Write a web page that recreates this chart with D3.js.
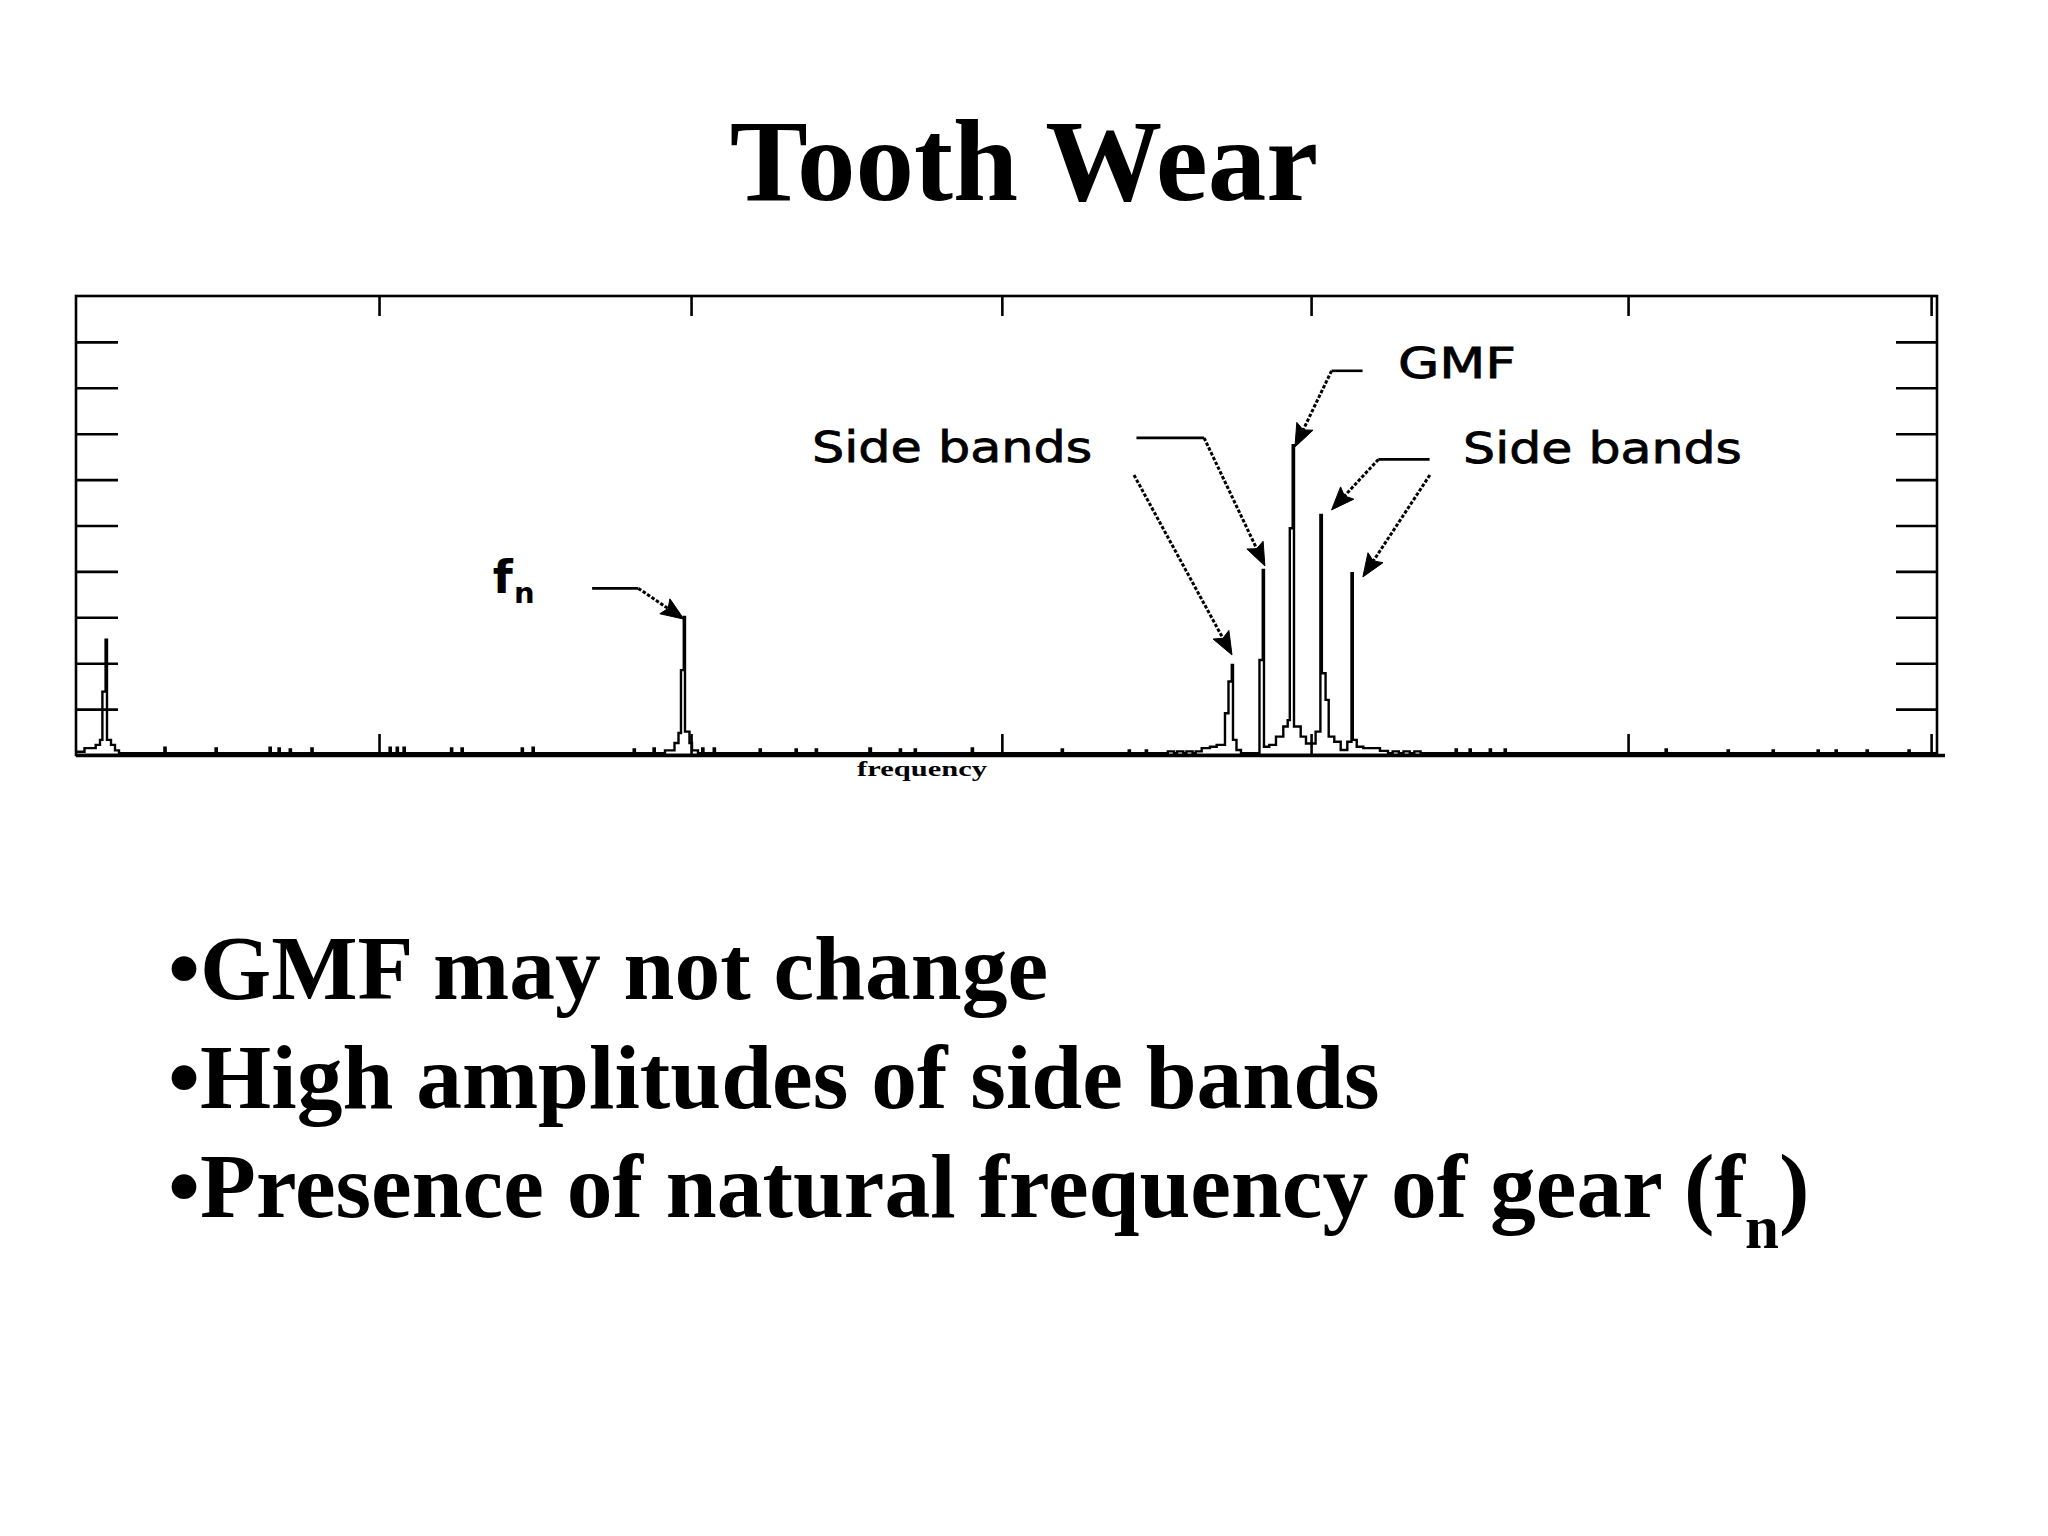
<!DOCTYPE html>
<html><head><meta charset="utf-8">
<script src="https://cdn.jsdelivr.net/npm/d3@7"></script>
<style>html,body{margin:0;padding:0;background:#fff}</style>
</head><body>
<svg id="c" width="2048" height="1536" xmlns="http://www.w3.org/2000/svg"></svg>
<script>
// ---------------- data ----------------
const titleText = "Tooth Wear";
const xAxisLabel = "frequency";
const xTickValues = [97.7, 198.3, 298.5, 398.2, 500.4, 598.1];
const yTickValues = [1, 2, 3, 4, 5, 6, 7, 8, 9];

// spectrum: [frequency, amplitude] (step-after bins)
const spectrum = [
  [0, 0.07], [2.74, 0.15], [6.35, 0.22], [7.74, 0.33], [8.51, 1.38], [9.54, 2.51], [9.99, 0.33],
  [11.28, 0.22], [12.57, 0.10], [13.86, 0.04],
  [28.5, 0.16], [28.9, 0.04], [45.0, 0.14], [45.4, 0.04], [62.4, 0.16], [62.8, 0.04],
  [65.3, 0.14], [65.7, 0.04], [68.9, 0.12], [69.3, 0.04], [75.9, 0.14], [76.3, 0.04],
  [101.1, 0.16], [101.5, 0.04], [103.4, 0.16], [103.8, 0.04], [105.6, 0.16], [106.0, 0.04],
  [120.9, 0.14], [121.3, 0.04], [124.3, 0.14], [124.7, 0.04], [143.7, 0.14], [144.1, 0.04],
  [147.2, 0.16], [147.6, 0.04], [179.8, 0.12], [180.2, 0.04], [186.2, 0.14], [186.6, 0.04],
  [189.89, 0.10], [192.96, 0.26], [194.25, 0.48], [195.05, 1.85], [195.95, 3.01], [196.34, 0.51],
  [197.79, 0.26], [198.60, 0.10], [200.53, 0.04],
  [201.9, 0.14], [202.3, 0.04], [205.6, 0.14], [206.0, 0.04], [220.4, 0.12], [220.8, 0.04],
  [232.0, 0.12], [232.4, 0.04], [238.5, 0.12], [238.9, 0.04], [255.8, 0.14], [256.3, 0.04],
  [265.6, 0.12], [266.0, 0.04], [270.4, 0.12], [270.8, 0.04], [288.8, 0.14], [289.2, 0.04],
  [317.8, 0.12], [318.2, 0.04], [339.4, 0.10], [339.8, 0.04], [344.9, 0.10], [345.3, 0.04],
  [352.0, 0.08], [354.0, 0.04], [355.0, 0.08], [357.0, 0.04], [358.0, 0.08], [360.0, 0.04], [361.0, 0.08],
  [362.93, 0.15], [365.60, 0.18], [367.76, 0.22], [370.44, 0.91], [371.57, 1.60], [372.63, 1.96],
  [373.02, 0.33], [374.15, 0.11], [375.6, 0.04],
  [381.56, 2.07], [382.62, 4.03], [383.01, 0.18], [384.72, 0.22], [386.88, 0.40], [389.24, 0.62],
  [390.66, 0.76], [391.34, 4.94], [392.27, 6.75], [392.69, 0.62], [394.85, 0.40], [396.56, 0.25],
  [399.66, 0.51], [401.20, 5.23], [401.68, 1.78], [402.87, 1.20], [403.88, 0.40], [405.68, 0.29],
  [407.75, 0.11], [409.88, 0.29], [411.23, 3.96], [411.65, 0.33], [412.91, 0.18], [415.03, 0.15],
  [420.41, 0.09], [423.0, 0.04], [424.5, 0.08], [426.5, 0.04], [428.0, 0.08], [430.0, 0.04],
  [431.5, 0.08], [433.5, 0.04],
  [444.8, 0.12], [445.2, 0.04], [449.3, 0.12], [449.7, 0.04], [455.8, 0.12], [456.2, 0.04],
  [460.6, 0.12], [461.0, 0.04], [512.5, 0.12], [512.9, 0.04], [532.5, 0.10], [532.9, 0.04],
  [547.0, 0.10], [547.4, 0.04], [561.5, 0.10], [561.9, 0.04], [567.3, 0.10], [567.7, 0.04],
  [577.3, 0.10], [577.7, 0.04], [590.8, 0.10], [591.2, 0.04], [600, 0.04]
];

// annotation labels anchored in data space
const labelTexts = ["Side bands", "GMF", "Side bands"];
const labelStart = [237.3, 426.2, 447.2];
const labelEnd   = [327.6, 464.3, 537.1];
const labelAmp   = [6.39, 8.21, 6.36];

// leader polylines in data space, last point = arrow tip
const leaders = [
  [[166.4, 3.63], [181.3, 3.63], [196.0, 2.96]],
  [[341.9, 6.91], [363.7, 6.91], [383.3, 4.12]],
  [[341.1, 6.10], [372.7, 2.18]],
  [[414.8, 8.37], [404.8, 8.37], [393.0, 6.71]],
  [[436.4, 6.44], [419.9, 6.44], [404.8, 5.34]],
  [[436.5, 6.10], [414.9, 3.88]]
];
const fnLabel = { f: 134.4, amp: 3.53, main: "f", sub: "n" };

const bulletLines = [
  [["•GMF may not change", false]],
  [["•High amplitudes of side bands", false]],
  [["•Presence of natural frequency of gear (f", false], ["n", true], [")", false]]
];

// ---------------- drawing ----------------
const svg = d3.select("#c");
const x = d3.scaleLinear().domain([0, 600]).range([76, 1937]);
const y = d3.scaleLinear().domain([0, 10]).range([755, 296]);

svg.append("text")
  .attr("x", 1024).attr("y", 200)
  .attr("text-anchor", "middle")
  .attr("font-family", "'Liberation Serif','Times New Roman',serif")
  .attr("font-weight", "bold").attr("font-size", 117)
  .text(titleText);

const plot = svg.append("g");

// frame
plot.append("rect")
  .attr("x", x(0)).attr("y", y(10))
  .attr("width", x(600) - x(0)).attr("height", y(0) - y(10))
  .attr("fill", "none").attr("stroke", "#000").attr("stroke-width", 2.6);

function styleAxis(g) {
  g.select(".domain").remove();
  g.selectAll(".tick line").attr("stroke", "#000").attr("stroke-width", 2.6);
  g.selectAll(".tick text").remove();
}
plot.append("g").attr("transform", `translate(0,${y(10)})`)
  .call(d3.axisTop(x).tickValues(xTickValues).tickSize(-20).tickSizeOuter(0).tickFormat(""))
  .call(styleAxis);
plot.append("g").attr("transform", `translate(0,${y(0)})`)
  .call(d3.axisBottom(x).tickValues(xTickValues).tickSize(-21).tickSizeOuter(0).tickFormat(""))
  .call(styleAxis);
plot.append("g").attr("transform", `translate(${x(0)},0)`)
  .call(d3.axisLeft(y).tickValues(yTickValues).tickSize(-42).tickSizeOuter(0).tickFormat(""))
  .call(styleAxis);
plot.append("g").attr("transform", `translate(${x(600)},0)`)
  .call(d3.axisRight(y).tickValues(yTickValues).tickSize(-41).tickSizeOuter(0).tickFormat(""))
  .call(styleAxis);

// thick base line
plot.append("line")
  .attr("x1", x(0)).attr("x2", x(600) + 8)
  .attr("y1", y(0) + 0.5).attr("y2", y(0) + 0.5)
  .attr("stroke", "#000").attr("stroke-width", 3.6);

// spectrum
const line = d3.line().x(d => x(d[0])).y(d => y(d[1])).curve(d3.curveStepAfter);
plot.append("path").datum(spectrum)
  .attr("d", line)
  .attr("fill", "none").attr("stroke", "#000")
  .attr("stroke-width", 2.4).attr("stroke-linejoin", "miter");

// axis label
svg.append("text")
  .attr("x", 857).attr("y", 776)
  .attr("font-family", "'Liberation Serif',serif")
  .attr("font-weight", "bold").attr("font-size", 21)
  .attr("textLength", 130).attr("lengthAdjust", "spacingAndGlyphs")
  .text(xAxisLabel);

// leaders with arrowheads
const ann = svg.append("g");
leaders.forEach(pts => {
  const P = pts.map(p => [x(p[0]), y(p[1])]);
  const tip = P[P.length - 1], prev = P[P.length - 2];
  const dx = tip[0] - prev[0], dy = tip[1] - prev[1];
  const len = Math.hypot(dx, dy), ux = dx / len, uy = dy / len;
  const L = 23, W = 9;
  const base = [tip[0] - L * ux, tip[1] - L * uy];
  for (let i = 0; i < P.length - 1; i++) {
    const a = P[i];
    const b = (i === P.length - 2) ? [base[0] + 4 * ux, base[1] + 4 * uy] : P[i + 1];
    const horiz = Math.abs(a[1] - b[1]) < 0.5;
    ann.append("line")
      .attr("x1", a[0]).attr("y1", a[1]).attr("x2", b[0]).attr("y2", b[1])
      .attr("stroke", "#000").attr("stroke-width", horiz ? 2.6 : 3)
      .attr("stroke-dasharray", horiz ? null : "3.5,1.8");
  }
  ann.append("path")
    .attr("d", `M${tip[0]},${tip[1]}L${base[0] - W * uy},${base[1] + W * ux}L${base[0] + 4 * ux},${base[1] + 4 * uy}L${base[0] + W * uy},${base[1] - W * ux}Z`)
    .attr("fill", "#000").attr("stroke", "#000").attr("stroke-width", 1);
});

// labels
labelTexts.forEach((t, i) => {
  ann.append("text")
    .attr("x", x(labelStart[i])).attr("y", y(labelAmp[i]))
    .attr("font-family", "'DejaVu Sans',Verdana,sans-serif")
    .attr("font-size", 42)
    .attr("stroke", "#000").attr("stroke-width", 0.8)
    .attr("textLength", x(labelEnd[i]) - x(labelStart[i]))
    .attr("lengthAdjust", "spacingAndGlyphs")
    .text(t);
});

const fnT = ann.append("text")
  .attr("x", x(fnLabel.f)).attr("y", y(fnLabel.amp))
  .attr("font-family", "'DejaVu Sans',sans-serif").attr("font-weight", "bold");
fnT.append("tspan").attr("font-size", 46).text(fnLabel.main);
fnT.append("tspan").attr("font-size", 29).attr("dy", 10).attr("dx", 1).text(fnLabel.sub);

// bullets
const bulletBaselines = [999, 1108, 1217];
bulletLines.forEach((segs, i) => {
  const t = svg.append("text")
    .attr("x", 168).attr("y", bulletBaselines[i])
    .attr("font-family", "'Liberation Serif','Times New Roman',serif")
    .attr("font-weight", "bold").attr("font-size", 91.5);
  let shifted = false;
  segs.forEach(([s, sub]) => {
    const ts = t.append("tspan").text(s);
    if (sub) { ts.attr("font-size", 61).attr("dy", 31); shifted = true; }
    else if (shifted) { ts.attr("dy", -31); shifted = false; }
  });
});
</script>
</body></html>
